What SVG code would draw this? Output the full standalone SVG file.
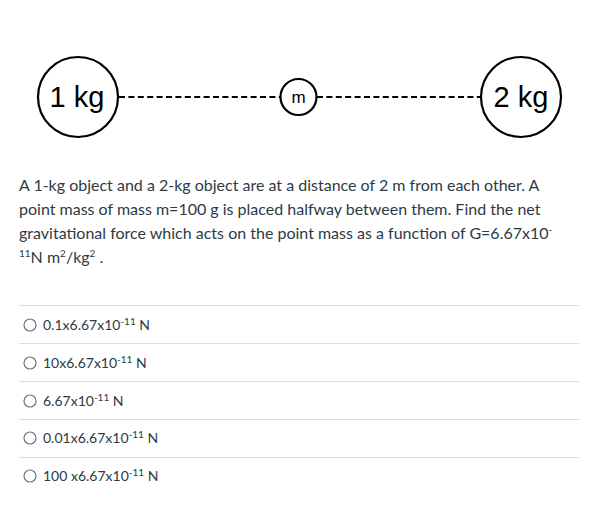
<svg xmlns="http://www.w3.org/2000/svg" width="599" height="514" viewBox="0 0 599 514">
<style>
.node{fill:#fff;stroke:#000;stroke-width:2.2}
.lbl{font-family:"Liberation Sans",Arial,sans-serif;fill:#000;text-anchor:middle}
.conn{stroke:#000;stroke-width:1.8;stroke-dasharray:6 3.4;fill:none}
.q{font-family:Lato,"Open Sans",sans-serif;font-size:16px;fill:#2d3b45}
.o{font-family:Lato,"Open Sans",sans-serif;font-size:14px;fill:#2d3b45}
.sup{font-size:10px}
.sep{stroke:#ddd;stroke-width:1}
.radio{fill:#fff;stroke:#6b7780;stroke-width:1.2}
</style>
<rect width="599" height="514" fill="#fff"/>
<g id="connectors">
<line class="conn" x1="119" y1="97" x2="280" y2="97"/>
<line class="conn" x1="317" y1="97" x2="480" y2="97"/>
</g>
<g id="node-1kg">
<circle class="node" cx="78" cy="97" r="40"/>
<text class="lbl" x="77" y="107" font-size="29">1 kg</text>
</g>
<g id="node-m">
<circle class="node" cx="298.5" cy="97" r="18"/>
<text class="lbl" x="298.5" y="103" font-size="17">m</text>
</g>
<g id="node-2kg">
<circle class="node" cx="521" cy="97" r="40"/>
<text class="lbl" x="521" y="107" font-size="29">2 kg</text>
</g>
<g id="question">
<text class="q" x="19" y="191">A 1-kg object and a 2-kg object are at a distance of 2 m from each other. A</text>
<text class="q" x="19" y="215">point mass of mass m=100 g is placed halfway between them. Find the net</text>
<text class="q" x="19" y="239">gravitational force which acts on the point mass as a function of G=6.67x10<tspan class="sup" dy="-6">-</tspan></text>
<text class="q" x="19" y="263"><tspan class="sup" dy="-6">11</tspan><tspan dy="6">N m</tspan><tspan class="sup" dy="-6">2</tspan><tspan dy="6">/kg</tspan><tspan class="sup" dy="-6">2</tspan><tspan dy="6"> .</tspan></text>
</g>
<g id="options">
<line class="sep" x1="19" y1="305.5" x2="579" y2="305.5"/>
<line class="sep" x1="19" y1="343.5" x2="579" y2="343.5"/>
<line class="sep" x1="19" y1="381.5" x2="579" y2="381.5"/>
<line class="sep" x1="19" y1="419.5" x2="579" y2="419.5"/>
<line class="sep" x1="19" y1="457.5" x2="579" y2="457.5"/>
<circle class="radio" cx="30" cy="325" r="6"/>
<text class="o" x="43" y="330">0.1x6.67x10<tspan class="sup" dy="-5">-11</tspan><tspan dy="5"> N</tspan></text>
<circle class="radio" cx="30" cy="363" r="6"/>
<text class="o" x="43" y="368">10x6.67x10<tspan class="sup" dy="-5">-11</tspan><tspan dy="5"> N</tspan></text>
<circle class="radio" cx="30" cy="401" r="6"/>
<text class="o" x="43" y="406">6.67x10<tspan class="sup" dy="-5">-11</tspan><tspan dy="5"> N</tspan></text>
<circle class="radio" cx="30" cy="438" r="6"/>
<text class="o" x="43" y="443">0.01x6.67x10<tspan class="sup" dy="-5">-11</tspan><tspan dy="5"> N</tspan></text>
<circle class="radio" cx="30" cy="476" r="6"/>
<text class="o" x="43" y="481">100 x6.67x10<tspan class="sup" dy="-5">-11</tspan><tspan dy="5"> N</tspan></text>
</g>
</svg>
